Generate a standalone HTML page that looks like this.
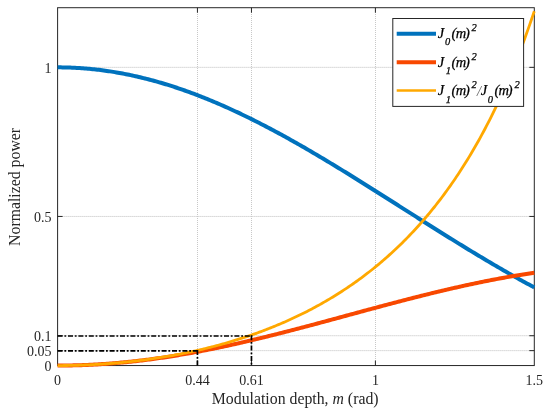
<!DOCTYPE html>
<html><head><meta charset="utf-8"><style>
html,body{margin:0;padding:0;background:#fff;}
svg{display:block;}
</style></head><body>
<svg width="550" height="414" viewBox="0 0 550 414">
<rect width="550" height="414" fill="#fff"/>
<g stroke="#bdbdbd" stroke-width="1" stroke-dasharray="1 1"><line x1="57.60" y1="350.64" x2="534.30" y2="350.64"/><line x1="57.60" y1="335.73" x2="534.30" y2="335.73"/><line x1="57.60" y1="216.45" x2="534.30" y2="216.45"/><line x1="57.60" y1="67.35" x2="534.30" y2="67.35"/></g>
<g stroke="#c8c8c8" stroke-width="1" stroke-dasharray="1 1"><line x1="197.50" y1="8" x2="197.50" y2="366"/><line x1="251.50" y1="8" x2="251.50" y2="366"/><line x1="375.50" y1="8" x2="375.50" y2="366"/></g>
<rect x="57.60" y="7.71" width="476.70" height="357.84" fill="none" stroke="#262626" stroke-width="1"/>
<path d="M197.43,365.55 v-5 M197.43,7.71 v5 M251.46,365.55 v-5 M251.46,7.71 v5 M375.40,365.55 v-5 M375.40,7.71 v5 M57.60,350.64 h5 M534.30,350.64 h-5 M57.60,335.73 h5 M534.30,335.73 h-5 M57.60,216.45 h5 M534.30,216.45 h-5 M57.60,67.35 h5 M534.30,67.35 h-5" stroke="#262626" stroke-width="1" fill="none"/>
<path d="M57.60,67.35 L59.19,67.35 L60.78,67.36 L62.37,67.38 L63.96,67.41 L65.55,67.44 L67.13,67.48 L68.72,67.53 L70.31,67.59 L71.90,67.65 L73.49,67.72 L75.08,67.80 L76.67,67.89 L78.26,67.98 L79.85,68.08 L81.44,68.19 L83.02,68.30 L84.61,68.43 L86.20,68.56 L87.79,68.69 L89.38,68.84 L90.97,68.99 L92.56,69.15 L94.15,69.32 L95.74,69.49 L97.33,69.67 L98.91,69.86 L100.50,70.06 L102.09,70.26 L103.68,70.47 L105.27,70.69 L106.86,70.92 L108.45,71.15 L110.04,71.39 L111.63,71.64 L113.22,71.89 L114.80,72.15 L116.39,72.42 L117.98,72.70 L119.57,72.98 L121.16,73.27 L122.75,73.57 L124.34,73.87 L125.93,74.18 L127.52,74.50 L129.11,74.83 L130.69,75.16 L132.28,75.50 L133.87,75.85 L135.46,76.20 L137.05,76.56 L138.64,76.93 L140.23,77.30 L141.82,77.68 L143.41,78.07 L145.00,78.47 L146.58,78.87 L148.17,79.28 L149.76,79.69 L151.35,80.12 L152.94,80.54 L154.53,80.98 L156.12,81.42 L157.71,81.87 L159.30,82.33 L160.89,82.79 L162.47,83.26 L164.06,83.73 L165.65,84.22 L167.24,84.70 L168.83,85.20 L170.42,85.70 L172.01,86.21 L173.60,86.72 L175.19,87.24 L176.78,87.77 L178.36,88.30 L179.95,88.84 L181.54,89.39 L183.13,89.94 L184.72,90.50 L186.31,91.07 L187.90,91.64 L189.49,92.21 L191.08,92.80 L192.66,93.38 L194.25,93.98 L195.84,94.58 L197.43,95.19 L199.02,95.80 L200.61,96.42 L202.20,97.04 L203.79,97.67 L205.38,98.31 L206.97,98.95 L208.56,99.60 L210.14,100.25 L211.73,100.91 L213.32,101.57 L214.91,102.24 L216.50,102.92 L218.09,103.60 L219.68,104.28 L221.27,104.98 L222.86,105.67 L224.44,106.38 L226.03,107.08 L227.62,107.80 L229.21,108.51 L230.80,109.24 L232.39,109.97 L233.98,110.70 L235.57,111.44 L237.16,112.18 L238.75,112.93 L240.34,113.68 L241.92,114.44 L243.51,115.20 L245.10,115.97 L246.69,116.74 L248.28,117.52 L249.87,118.30 L251.46,119.09 L253.05,119.88 L254.64,120.68 L256.23,121.48 L257.81,122.28 L259.40,123.09 L260.99,123.91 L262.58,124.72 L264.17,125.55 L265.76,126.37 L267.35,127.20 L268.94,128.04 L270.53,128.88 L272.12,129.72 L273.70,130.57 L275.29,131.42 L276.88,132.27 L278.47,133.13 L280.06,133.99 L281.65,134.86 L283.24,135.73 L284.83,136.60 L286.42,137.48 L288.00,138.36 L289.59,139.25 L291.18,140.13 L292.77,141.03 L294.36,141.92 L295.95,142.82 L297.54,143.72 L299.13,144.63 L300.72,145.53 L302.31,146.45 L303.90,147.36 L305.48,148.28 L307.07,149.20 L308.66,150.12 L310.25,151.05 L311.84,151.98 L313.43,152.91 L315.02,153.85 L316.61,154.78 L318.20,155.72 L319.79,156.67 L321.37,157.61 L322.96,158.56 L324.55,159.51 L326.14,160.46 L327.73,161.42 L329.32,162.38 L330.91,163.34 L332.50,164.30 L334.09,165.26 L335.68,166.23 L337.26,167.20 L338.85,168.17 L340.44,169.14 L342.03,170.12 L343.62,171.10 L345.21,172.07 L346.80,173.05 L348.39,174.04 L349.98,175.02 L351.57,176.00 L353.15,176.99 L354.74,177.98 L356.33,178.97 L357.92,179.96 L359.51,180.95 L361.10,181.95 L362.69,182.94 L364.28,183.94 L365.87,184.94 L367.46,185.94 L369.04,186.94 L370.63,187.94 L372.22,188.94 L373.81,189.94 L375.40,190.95 L376.99,191.95 L378.58,192.96 L380.17,193.96 L381.76,194.97 L383.35,195.98 L384.93,196.98 L386.52,197.99 L388.11,199.00 L389.70,200.01 L391.29,201.02 L392.88,202.03 L394.47,203.04 L396.06,204.05 L397.65,205.06 L399.24,206.07 L400.82,207.08 L402.41,208.09 L404.00,209.10 L405.59,210.11 L407.18,211.13 L408.77,212.14 L410.36,213.15 L411.95,214.16 L413.54,215.17 L415.13,216.17 L416.71,217.18 L418.30,218.19 L419.89,219.20 L421.48,220.21 L423.07,221.21 L424.66,222.22 L426.25,223.22 L427.84,224.23 L429.43,225.23 L431.02,226.24 L432.60,227.24 L434.19,228.24 L435.78,229.24 L437.37,230.24 L438.96,231.24 L440.55,232.23 L442.14,233.23 L443.73,234.22 L445.32,235.21 L446.91,236.21 L448.49,237.20 L450.08,238.19 L451.67,239.17 L453.26,240.16 L454.85,241.14 L456.44,242.13 L458.03,243.11 L459.62,244.09 L461.21,245.06 L462.80,246.04 L464.38,247.01 L465.97,247.99 L467.56,248.96 L469.15,249.92 L470.74,250.89 L472.33,251.85 L473.92,252.82 L475.51,253.78 L477.10,254.73 L478.69,255.69 L480.27,256.64 L481.86,257.59 L483.45,258.54 L485.04,259.49 L486.63,260.43 L488.22,261.38 L489.81,262.31 L491.40,263.25 L492.99,264.18 L494.58,265.12 L496.16,266.04 L497.75,266.97 L499.34,267.89 L500.93,268.81 L502.52,269.73 L504.11,270.65 L505.70,271.56 L507.29,272.47 L508.88,273.37 L510.47,274.27 L512.05,275.17 L513.64,276.07 L515.23,276.96 L516.82,277.86 L518.41,278.74 L520.00,279.63 L521.59,280.51 L523.18,281.38 L524.77,282.26 L526.36,283.13 L527.94,284.00 L529.53,284.86 L531.12,285.72 L532.71,286.58 L534.30,287.43" stroke="#0072BD" stroke-width="4" fill="none" stroke-linejoin="round"/>
<path d="M57.60,365.55 L59.19,365.55 L60.78,365.54 L62.37,365.53 L63.96,365.52 L65.55,365.50 L67.13,365.48 L68.72,365.46 L70.31,365.43 L71.90,365.40 L73.49,365.36 L75.08,365.32 L76.67,365.28 L78.26,365.24 L79.85,365.19 L81.44,365.13 L83.02,365.07 L84.61,365.01 L86.20,364.95 L87.79,364.88 L89.38,364.81 L90.97,364.73 L92.56,364.65 L94.15,364.57 L95.74,364.48 L97.33,364.39 L98.91,364.30 L100.50,364.20 L102.09,364.10 L103.68,363.99 L105.27,363.88 L106.86,363.77 L108.45,363.65 L110.04,363.53 L111.63,363.41 L113.22,363.28 L114.80,363.15 L116.39,363.02 L117.98,362.88 L119.57,362.74 L121.16,362.60 L122.75,362.45 L124.34,362.30 L125.93,362.14 L127.52,361.99 L129.11,361.82 L130.69,361.66 L132.28,361.49 L133.87,361.32 L135.46,361.14 L137.05,360.96 L138.64,360.78 L140.23,360.59 L141.82,360.41 L143.41,360.21 L145.00,360.02 L146.58,359.82 L148.17,359.62 L149.76,359.41 L151.35,359.20 L152.94,358.99 L154.53,358.77 L156.12,358.56 L157.71,358.33 L159.30,358.11 L160.89,357.88 L162.47,357.65 L164.06,357.42 L165.65,357.18 L167.24,356.94 L168.83,356.69 L170.42,356.45 L172.01,356.20 L173.60,355.94 L175.19,355.69 L176.78,355.43 L178.36,355.17 L179.95,354.90 L181.54,354.64 L183.13,354.36 L184.72,354.09 L186.31,353.81 L187.90,353.54 L189.49,353.25 L191.08,352.97 L192.66,352.68 L194.25,352.39 L195.84,352.10 L197.43,351.80 L199.02,351.50 L200.61,351.20 L202.20,350.90 L203.79,350.59 L205.38,350.28 L206.97,349.97 L208.56,349.66 L210.14,349.34 L211.73,349.02 L213.32,348.70 L214.91,348.37 L216.50,348.05 L218.09,347.72 L219.68,347.39 L221.27,347.05 L222.86,346.72 L224.44,346.38 L226.03,346.04 L227.62,345.69 L229.21,345.35 L230.80,345.00 L232.39,344.65 L233.98,344.30 L235.57,343.95 L237.16,343.59 L238.75,343.23 L240.34,342.87 L241.92,342.51 L243.51,342.14 L245.10,341.78 L246.69,341.41 L248.28,341.04 L249.87,340.67 L251.46,340.29 L253.05,339.92 L254.64,339.54 L256.23,339.16 L257.81,338.78 L259.40,338.40 L260.99,338.01 L262.58,337.62 L264.17,337.24 L265.76,336.85 L267.35,336.46 L268.94,336.06 L270.53,335.67 L272.12,335.27 L273.70,334.88 L275.29,334.48 L276.88,334.08 L278.47,333.68 L280.06,333.27 L281.65,332.87 L283.24,332.46 L284.83,332.06 L286.42,331.65 L288.00,331.24 L289.59,330.83 L291.18,330.42 L292.77,330.01 L294.36,329.59 L295.95,329.18 L297.54,328.76 L299.13,328.35 L300.72,327.93 L302.31,327.51 L303.90,327.09 L305.48,326.67 L307.07,326.25 L308.66,325.83 L310.25,325.40 L311.84,324.98 L313.43,324.56 L315.02,324.13 L316.61,323.71 L318.20,323.28 L319.79,322.85 L321.37,322.43 L322.96,322.00 L324.55,321.57 L326.14,321.14 L327.73,320.71 L329.32,320.28 L330.91,319.86 L332.50,319.43 L334.09,318.99 L335.68,318.56 L337.26,318.13 L338.85,317.70 L340.44,317.27 L342.03,316.84 L343.62,316.41 L345.21,315.98 L346.80,315.54 L348.39,315.11 L349.98,314.68 L351.57,314.25 L353.15,313.82 L354.74,313.39 L356.33,312.96 L357.92,312.53 L359.51,312.09 L361.10,311.66 L362.69,311.23 L364.28,310.80 L365.87,310.37 L367.46,309.94 L369.04,309.52 L370.63,309.09 L372.22,308.66 L373.81,308.23 L375.40,307.81 L376.99,307.38 L378.58,306.95 L380.17,306.53 L381.76,306.10 L383.35,305.68 L384.93,305.26 L386.52,304.83 L388.11,304.41 L389.70,303.99 L391.29,303.57 L392.88,303.15 L394.47,302.73 L396.06,302.32 L397.65,301.90 L399.24,301.49 L400.82,301.07 L402.41,300.66 L404.00,300.25 L405.59,299.83 L407.18,299.42 L408.77,299.02 L410.36,298.61 L411.95,298.20 L413.54,297.80 L415.13,297.39 L416.71,296.99 L418.30,296.59 L419.89,296.19 L421.48,295.79 L423.07,295.39 L424.66,295.00 L426.25,294.60 L427.84,294.21 L429.43,293.82 L431.02,293.43 L432.60,293.04 L434.19,292.66 L435.78,292.27 L437.37,291.89 L438.96,291.51 L440.55,291.13 L442.14,290.75 L443.73,290.38 L445.32,290.00 L446.91,289.63 L448.49,289.26 L450.08,288.89 L451.67,288.53 L453.26,288.16 L454.85,287.80 L456.44,287.44 L458.03,287.08 L459.62,286.72 L461.21,286.37 L462.80,286.02 L464.38,285.67 L465.97,285.32 L467.56,284.97 L469.15,284.63 L470.74,284.29 L472.33,283.95 L473.92,283.61 L475.51,283.28 L477.10,282.95 L478.69,282.62 L480.27,282.29 L481.86,281.96 L483.45,281.64 L485.04,281.32 L486.63,281.00 L488.22,280.69 L489.81,280.38 L491.40,280.06 L492.99,279.76 L494.58,279.45 L496.16,279.15 L497.75,278.85 L499.34,278.55 L500.93,278.26 L502.52,277.97 L504.11,277.68 L505.70,277.39 L507.29,277.11 L508.88,276.83 L510.47,276.55 L512.05,276.27 L513.64,276.00 L515.23,275.73 L516.82,275.46 L518.41,275.20 L520.00,274.94 L521.59,274.68 L523.18,274.43 L524.77,274.17 L526.36,273.92 L527.94,273.68 L529.53,273.43 L531.12,273.19 L532.71,272.96 L534.30,272.72" stroke="#F84800" stroke-width="4" fill="none" stroke-linejoin="round"/>
<path d="M57.60,365.55 L59.19,365.55 L60.78,365.54 L62.37,365.53 L63.96,365.52 L65.55,365.50 L67.13,365.48 L68.72,365.46 L70.31,365.43 L71.90,365.40 L73.49,365.36 L75.08,365.32 L76.67,365.28 L78.26,365.23 L79.85,365.18 L81.44,365.13 L83.02,365.07 L84.61,365.01 L86.20,364.94 L87.79,364.88 L89.38,364.80 L90.97,364.73 L92.56,364.65 L94.15,364.56 L95.74,364.47 L97.33,364.38 L98.91,364.28 L100.50,364.19 L102.09,364.08 L103.68,363.97 L105.27,363.86 L106.86,363.75 L108.45,363.63 L110.04,363.51 L111.63,363.38 L113.22,363.25 L114.80,363.11 L116.39,362.98 L117.98,362.83 L119.57,362.69 L121.16,362.54 L122.75,362.38 L124.34,362.23 L125.93,362.06 L127.52,361.90 L129.11,361.73 L130.69,361.55 L132.28,361.38 L133.87,361.19 L135.46,361.01 L137.05,360.82 L138.64,360.62 L140.23,360.42 L141.82,360.22 L143.41,360.01 L145.00,359.80 L146.58,359.59 L148.17,359.37 L149.76,359.15 L151.35,358.92 L152.94,358.69 L154.53,358.45 L156.12,358.21 L157.71,357.97 L159.30,357.72 L160.89,357.46 L162.47,357.20 L164.06,356.94 L165.65,356.68 L167.24,356.41 L168.83,356.13 L170.42,355.85 L172.01,355.57 L173.60,355.28 L175.19,354.98 L176.78,354.69 L178.36,354.38 L179.95,354.08 L181.54,353.76 L183.13,353.45 L184.72,353.13 L186.31,352.80 L187.90,352.47 L189.49,352.14 L191.08,351.80 L192.66,351.45 L194.25,351.10 L195.84,350.75 L197.43,350.39 L199.02,350.02 L200.61,349.65 L202.20,349.28 L203.79,348.90 L205.38,348.51 L206.97,348.12 L208.56,347.73 L210.14,347.33 L211.73,346.92 L213.32,346.51 L214.91,346.10 L216.50,345.68 L218.09,345.25 L219.68,344.82 L221.27,344.38 L222.86,343.94 L224.44,343.49 L226.03,343.04 L227.62,342.58 L229.21,342.11 L230.80,341.64 L232.39,341.17 L233.98,340.68 L235.57,340.20 L237.16,339.70 L238.75,339.20 L240.34,338.70 L241.92,338.19 L243.51,337.67 L245.10,337.15 L246.69,336.62 L248.28,336.08 L249.87,335.54 L251.46,334.99 L253.05,334.44 L254.64,333.87 L256.23,333.31 L257.81,332.73 L259.40,332.15 L260.99,331.57 L262.58,330.97 L264.17,330.37 L265.76,329.76 L267.35,329.15 L268.94,328.53 L270.53,327.90 L272.12,327.27 L273.70,326.62 L275.29,325.98 L276.88,325.32 L278.47,324.66 L280.06,323.98 L281.65,323.31 L283.24,322.62 L284.83,321.93 L286.42,321.23 L288.00,320.52 L289.59,319.80 L291.18,319.08 L292.77,318.34 L294.36,317.60 L295.95,316.85 L297.54,316.10 L299.13,315.33 L300.72,314.56 L302.31,313.78 L303.90,312.99 L305.48,312.19 L307.07,311.38 L308.66,310.57 L310.25,309.74 L311.84,308.91 L313.43,308.06 L315.02,307.21 L316.61,306.35 L318.20,305.48 L319.79,304.60 L321.37,303.71 L322.96,302.81 L324.55,301.90 L326.14,300.98 L327.73,300.05 L329.32,299.11 L330.91,298.16 L332.50,297.20 L334.09,296.23 L335.68,295.25 L337.26,294.26 L338.85,293.26 L340.44,292.25 L342.03,291.22 L343.62,290.19 L345.21,289.14 L346.80,288.09 L348.39,287.02 L349.98,285.94 L351.57,284.84 L353.15,283.74 L354.74,282.62 L356.33,281.49 L357.92,280.35 L359.51,279.20 L361.10,278.03 L362.69,276.85 L364.28,275.66 L365.87,274.45 L367.46,273.23 L369.04,272.00 L370.63,270.75 L372.22,269.49 L373.81,268.22 L375.40,266.93 L376.99,265.63 L378.58,264.31 L380.17,262.98 L381.76,261.63 L383.35,260.27 L384.93,258.89 L386.52,257.49 L388.11,256.09 L389.70,254.66 L391.29,253.22 L392.88,251.76 L394.47,250.29 L396.06,248.79 L397.65,247.29 L399.24,245.76 L400.82,244.22 L402.41,242.65 L404.00,241.07 L405.59,239.48 L407.18,237.86 L408.77,236.22 L410.36,234.57 L411.95,232.89 L413.54,231.20 L415.13,229.49 L416.71,227.75 L418.30,226.00 L419.89,224.22 L421.48,222.43 L423.07,220.61 L424.66,218.77 L426.25,216.90 L427.84,215.02 L429.43,213.11 L431.02,211.18 L432.60,209.23 L434.19,207.25 L435.78,205.25 L437.37,203.22 L438.96,201.17 L440.55,199.09 L442.14,196.99 L443.73,194.86 L445.32,192.70 L446.91,190.52 L448.49,188.31 L450.08,186.07 L451.67,183.80 L453.26,181.51 L454.85,179.18 L456.44,176.83 L458.03,174.44 L459.62,172.03 L461.21,169.58 L462.80,167.10 L464.38,164.59 L465.97,162.05 L467.56,159.47 L469.15,156.86 L470.74,154.21 L472.33,151.53 L473.92,148.81 L475.51,146.06 L477.10,143.27 L478.69,140.44 L480.27,137.57 L481.86,134.66 L483.45,131.72 L485.04,128.73 L486.63,125.70 L488.22,122.63 L489.81,119.52 L491.40,116.36 L492.99,113.16 L494.58,109.92 L496.16,106.63 L497.75,103.29 L499.34,99.90 L500.93,96.46 L502.52,92.98 L504.11,89.44 L505.70,85.86 L507.29,82.22 L508.88,78.52 L510.47,74.78 L512.05,70.97 L513.64,67.11 L515.23,63.20 L516.82,59.22 L518.41,55.18 L520.00,51.08 L521.59,46.92 L523.18,42.69 L524.77,38.40 L526.36,34.04 L527.94,29.62 L529.53,25.12 L531.12,20.56 L532.71,15.92 L534.30,11.20" stroke="#FFA800" stroke-width="2.8" fill="none" stroke-linejoin="round"/>
<g stroke="#000" stroke-width="1.7" fill="none" stroke-dasharray="5 1.8 1.8 1.8"><line x1="57.60" y1="335.98" x2="252.26" y2="335.98"/><line x1="251.46" y1="335.18" x2="251.46" y2="365.55"/><line x1="57.60" y1="350.89" x2="198.23" y2="350.89"/><line x1="197.43" y1="350.09" x2="197.43" y2="365.55"/></g>
<text x="57.60" y="384.5" font-size="14" text-anchor="middle" fill="#262626" font-family="'Liberation Serif', 'Times New Roman', serif">0</text>
<text x="197.43" y="384.5" font-size="14" text-anchor="middle" fill="#262626" font-family="'Liberation Serif', 'Times New Roman', serif">0.44</text>
<text x="251.46" y="384.5" font-size="14" text-anchor="middle" fill="#262626" font-family="'Liberation Serif', 'Times New Roman', serif">0.61</text>
<text x="375.40" y="384.5" font-size="14" text-anchor="middle" fill="#262626" font-family="'Liberation Serif', 'Times New Roman', serif">1</text>
<text x="534.30" y="384.5" font-size="14" text-anchor="middle" fill="#262626" font-family="'Liberation Serif', 'Times New Roman', serif">1.5</text>
<text x="51.5" y="371.05" font-size="14" text-anchor="end" fill="#262626" font-family="'Liberation Serif', 'Times New Roman', serif">0</text>
<text x="51.5" y="356.14" font-size="14" text-anchor="end" fill="#262626" font-family="'Liberation Serif', 'Times New Roman', serif">0.05</text>
<text x="51.5" y="341.23" font-size="14" text-anchor="end" fill="#262626" font-family="'Liberation Serif', 'Times New Roman', serif">0.1</text>
<text x="51.5" y="221.95" font-size="14" text-anchor="end" fill="#262626" font-family="'Liberation Serif', 'Times New Roman', serif">0.5</text>
<text x="51.5" y="72.85" font-size="14" text-anchor="end" fill="#262626" font-family="'Liberation Serif', 'Times New Roman', serif">1</text>
<text x="295.2" y="403.9" font-size="15.8" text-anchor="middle" fill="#262626" font-family="'Liberation Serif', 'Times New Roman', serif">Modulation depth, <tspan font-style="italic">m</tspan> (rad)</text>
<text transform="translate(20.3,186.9) rotate(-90)" font-size="15.8" text-anchor="middle" fill="#262626" font-family="'Liberation Serif', 'Times New Roman', serif">Normalized power</text>
<rect x="392.8" y="18.5" width="130.8" height="87.9" fill="#fff" stroke="#262626" stroke-width="1"/>
<line x1="396.7" y1="33.8" x2="436" y2="33.8" stroke="#0072BD" stroke-width="4"/>
<line x1="396.7" y1="62.2" x2="436" y2="62.2" stroke="#F84800" stroke-width="4"/>
<line x1="396.7" y1="90.6" x2="436" y2="90.6" stroke="#FFA800" stroke-width="2.5"/>
<g font-style="italic" fill="#000" stroke="#000" stroke-width="0.25" font-family="'Liberation Serif', 'Times New Roman', serif"><text x="437.75" y="38.20" font-size="14.5">J</text><text x="444.92" y="45.40" font-size="10.5">0</text><text x="451.60" y="38.20" font-size="14.5">(</text><text x="455.65" y="38.20" font-size="14.5">m</text><text x="464.92" y="38.20" font-size="14.5">)</text><text x="471.60" y="31.10" font-size="10.5">2</text><text x="437.75" y="67.10" font-size="14.5">J</text><text x="445.72" y="74.30" font-size="10.5">1</text><text x="451.60" y="67.10" font-size="14.5">(</text><text x="455.65" y="67.10" font-size="14.5">m</text><text x="464.92" y="67.10" font-size="14.5">)</text><text x="471.60" y="60.00" font-size="10.5">2</text><text x="437.75" y="95.40" font-size="14.5">J</text><text x="445.72" y="102.60" font-size="10.5">1</text><text x="451.60" y="95.40" font-size="14.5">(</text><text x="455.65" y="95.40" font-size="14.5">m</text><text x="464.92" y="95.40" font-size="14.5">)</text><text x="471.60" y="88.30" font-size="10.5">2</text><text x="477.12" y="95.70" font-size="14.5" fill="#666" stroke="none">/</text><text x="480.65" y="95.40" font-size="14.5">J</text><text x="487.82" y="102.60" font-size="10.5">0</text><text x="494.50" y="95.40" font-size="14.5">(</text><text x="498.55" y="95.40" font-size="14.5">m</text><text x="507.82" y="95.40" font-size="14.5">)</text><text x="514.50" y="88.30" font-size="10.5">2</text></g>
</svg>
</body></html>
